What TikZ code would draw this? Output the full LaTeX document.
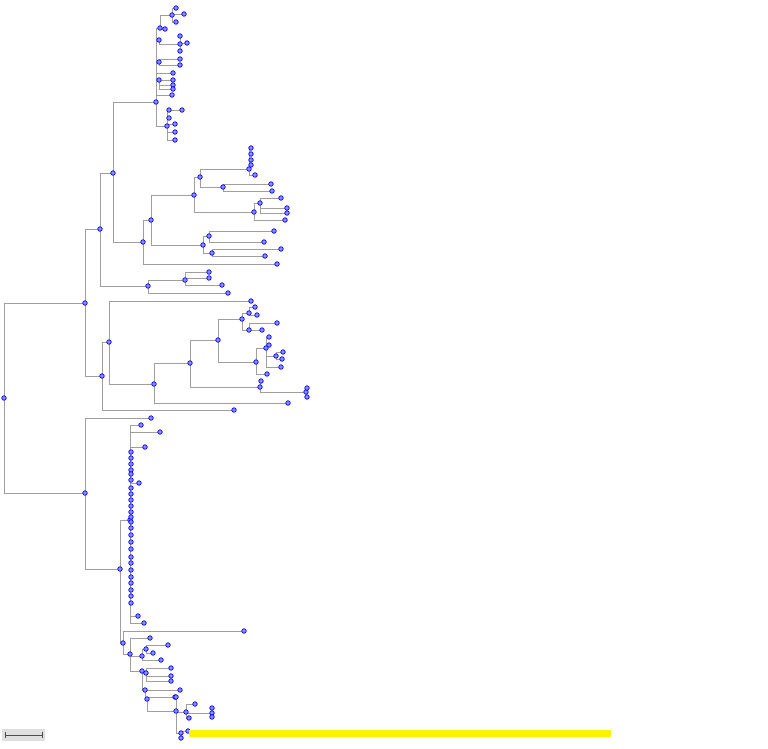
\documentclass[tikz,border=0pt]{standalone}
\newcounter{lfc}
\tikzset{dotnode/.style={circle,draw=blue,fill=blue!45,inner sep=0pt,minimum size=4.5pt,line width=0.7pt},
 edge/.style={draw=gray!75,line width=0.8pt}}
\newcommand{\Nd}[3]{\node[dotnode] (#1) at (#2,#3) {};}
\newcommand{\Lf}[3]{\stepcounter{lfc}\node[dotnode] (lf\thelfc) at (#2,#3) {};\begin{pgfonlayer}{background}\draw[edge] (#1.center) |- (lf\thelfc.center);\end{pgfonlayer}}
\newcommand{\In}[4]{\node[dotnode] (#2) at (#3,#4) {};\begin{pgfonlayer}{background}\draw[edge] (#1.center) |- (#2.center);\end{pgfonlayer}}
\begin{document}
\begin{tikzpicture}[x=1pt,y=-1pt]
\pgfdeclarelayer{background}\pgfsetlayers{background,main}
\useasboundingbox (0,0) rectangle (768,748);
\Nd{root}{4}{398}
\In{root}{A}{85}{303}
\In{A}{A1}{100}{229}
\In{A1}{A1a}{113}{173}
\In{A1a}{T}{156}{102}
\In{T}{T1}{160}{28}
\In{T1}{T11}{172}{15}\Lf{T11}{176}{8}\Lf{T11}{184}{14}\Lf{T11}{176}{22}
\Lf{T1}{165}{29}
\In{T}{T2}{159}{40}\In{T2}{T21}{180}{44}\Lf{T21}{180}{36}\Lf{T21}{187}{43}\Lf{T21}{180}{51}
\In{T}{T3}{159}{62}\Lf{T3}{180}{59}\Lf{T3}{180}{65}
\Lf{T}{173}{73}
\In{T}{T4}{159}{80}\Lf{T4}{173}{80}\Lf{T4}{173}{85}\Lf{T4}{173}{89}
\Lf{T}{172}{95}
\In{T}{T5}{167}{126}\Lf{T5}{169}{110}\Lf{T5}{182}{110}\Lf{T5}{169}{118}\Lf{T5}{175}{124}\Lf{T5}{175}{132}\Lf{T5}{175}{140}
\In{A1a}{M}{143}{242}
\In{M}{M1}{151}{220}
\In{M1}{M11}{194}{195}
\In{M11}{M111}{200}{177}
\In{M111}{M1111}{249}{169}\Lf{M1111}{251}{148}\Lf{M1111}{251}{154}\Lf{M1111}{251}{160}\Lf{M1111}{251}{165}\Lf{M1111}{255}{175}
\In{M111}{M1112}{223}{187}\Lf{M1112}{271}{184}\Lf{M1112}{272}{191}
\In{M11}{M112}{254}{212}\In{M112}{M1121}{260}{203}\Lf{M1121}{281}{198}\Lf{M1121}{287}{208}\Lf{M1121}{287}{213}\Lf{M112}{285}{220}
\In{M1}{M12}{203}{245}\In{M12}{M121}{209}{236}\Lf{M121}{274}{231}\Lf{M121}{264}{242}
\In{M12}{M122}{212}{253}\Lf{M122}{281}{249}\Lf{M122}{265}{256}
\Lf{M}{277}{264}
\In{A1}{A1b}{148}{286}\In{A1b}{A1b1}{185}{280}\Lf{A1b1}{209}{272}\Lf{A1b1}{209}{278}\Lf{A1b1}{222}{285}\Lf{A1b}{228}{293}
\In{A}{A2}{102}{376}
\In{A2}{B1}{109}{342}
\Lf{B1}{251}{301}
\In{B1}{B2}{154}{384}
\In{B2}{B3}{190}{363}
\In{B3}{B4}{218}{340}
\In{B4}{B5}{242}{319}\In{B5}{B51}{249}{313}\Lf{B51}{255}{307}\Lf{B51}{257}{315}
\In{B5}{B52}{249}{330}\Lf{B52}{277}{323}\Lf{B52}{262}{330}
\In{B4}{B6}{256}{362}\In{B6}{B61}{266}{348}\Lf{B61}{269}{337}\Lf{B61}{269}{345}\In{B61}{B62}{276}{356}\Lf{B62}{283}{352}\Lf{B62}{282}{359}\Lf{B61}{281}{367}\Lf{B6}{267}{374}
\In{B3}{B7}{260}{387}\Lf{B7}{261}{381}\In{B7}{B71}{306}{392}\Lf{B71}{307}{388}\Lf{B71}{307}{397}
\Lf{B2}{288}{403}
\Lf{A2}{234}{410}
\In{root}{C}{85}{493}
\Lf{C}{151}{418}
\In{C}{C1}{120}{569}
\In{C1}{C2}{130}{520}
\Lf{C2}{141}{425}\Lf{C2}{160}{432}\Lf{C2}{145}{447}
\foreach \yy in {452,458,464,470,474,480,488,494,500,506,512,517,522,528,535,542,549,557,563,570,577,583,590,596,603} {\Lf{C2}{131}{\yy}}
\Lf{C2}{139}{483}\Lf{C2}{138}{616}\Lf{C2}{144}{623}
\In{C1}{C3}{123}{643}
\Lf{C3}{244}{631}
\In{C3}{C4}{130}{654}
\Lf{C4}{150}{638}
\In{C4}{C5}{142}{656}\In{C5}{C51}{146}{649}\Lf{C51}{168}{645}\Lf{C51}{153}{653}\Lf{C5}{161}{660}
\In{C4}{C6}{142}{671}\In{C6}{C61}{146}{673}\Lf{C61}{171}{668}\Lf{C61}{171}{676}\Lf{C61}{171}{681}
\In{C6}{C7}{145}{690}\Lf{C7}{180}{690}
\In{C7}{C8}{147}{699}\Lf{C8}{175}{697}
\In{C8}{C9}{176}{711}\Lf{C9}{176}{697}\In{C9}{C10}{186}{712}\Lf{C10}{195}{704}\In{C10}{C11}{212}{713}\Lf{C11}{212}{708}\Lf{C11}{212}{717}
\Lf{C10}{189}{718}
\In{C9}{C12}{181}{733}\Lf{C12}{188}{731}\Lf{C12}{181}{738}
\node[fill=yellow,inner sep=0pt,minimum width=422pt,minimum height=7pt,anchor=west] (bar) at (189,733) {};
\node[fill=gray!25,inner sep=0pt,minimum width=43pt,minimum height=12pt,anchor=north west] (scale) at (2,729) {};
\draw[gray!60!black,line width=0.6pt] ([xshift=3pt]scale.west) -- ([xshift=-3pt]scale.east);
\draw[gray!60!black,line width=0.6pt] ([xshift=3pt,yshift=3pt]scale.west) -- ([xshift=3pt,yshift=-3pt]scale.west);
\draw[gray!60!black,line width=0.6pt] ([xshift=-3pt,yshift=3pt]scale.east) -- ([xshift=-3pt,yshift=-3pt]scale.east);
\end{tikzpicture}
\end{document}
